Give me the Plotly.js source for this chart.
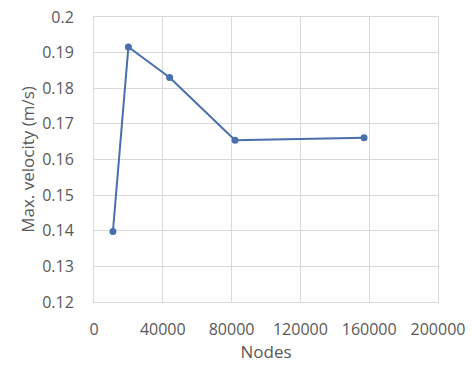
<!DOCTYPE html>
<html>
<head>
<meta charset="utf-8">
<script src="https://cdn.plot.ly/plotly-3.0.1.min.js"></script>
<style>html,body{margin:0;padding:0;background:#fff;}#chart{width:474px;height:379px;}</style>
</head>
<body>
<div id="chart"></div>
<script>
var nodes = [11000, 20000, 44000, 82000, 157000];
var maxVelocity = [0.1398, 0.1916, 0.1830, 0.1654, 0.1661];
var xTickVals = [0, 40000, 80000, 120000, 160000, 200000];
var yTickVals = [0.12, 0.13, 0.14, 0.15, 0.16, 0.17, 0.18, 0.19, 0.2];
var yTickText = ['0.12', '0.13', '0.14', '0.15', '0.16', '0.17', '0.18', '0.19', '0.2'];

var textColor = '#595959';
var font = {family: 'Open Sans, sans-serif', size: 16, color: textColor};

var trace = {
  x: nodes, y: maxVelocity, type: 'scatter', mode: 'lines+markers',
  line: {color: '#4a6fad', width: 2},
  marker: {color: '#4a6fad', size: 7}
};

var layout = {
  width: 474, height: 379,
  margin: {l: 94, r: 36, t: 17, b: 77},
  paper_bgcolor: '#fff', plot_bgcolor: '#fff',
  showlegend: false,
  font: font,
  xaxis: {
    range: [0, 200000], tickvals: xTickVals, ticktext: xTickVals.map(String),
    showgrid: true, gridcolor: '#d9d9d9', gridwidth: 1,
    zeroline: false, showline: true, linecolor: '#d9d9d9', linewidth: 1, mirror: true,
    ticks: 'outside', ticklen: 13, tickcolor: 'rgba(0,0,0,0)',
    tickfont: font,
    title: {text: 'Nodes', font: {family: 'Open Sans, sans-serif', size: 17, color: textColor}, standoff: 6}
  },
  yaxis: {
    range: [0.12, 0.2], tickvals: yTickVals, ticktext: yTickText,
    showgrid: true, gridcolor: '#d9d9d9', gridwidth: 1,
    zeroline: false, showline: true, linecolor: '#d9d9d9', linewidth: 1, mirror: true,
    ticks: 'outside', ticklen: 16, tickcolor: 'rgba(0,0,0,0)',
    tickfont: font,
    title: {text: 'Max. velocity (m/s)', font: {family: 'Open Sans, sans-serif', size: 17, color: textColor}, standoff: 3}
  }
};

Plotly.newPlot('chart', [trace], layout, {displayModeBar: false, staticPlot: true});
</script>
</body>
</html>
